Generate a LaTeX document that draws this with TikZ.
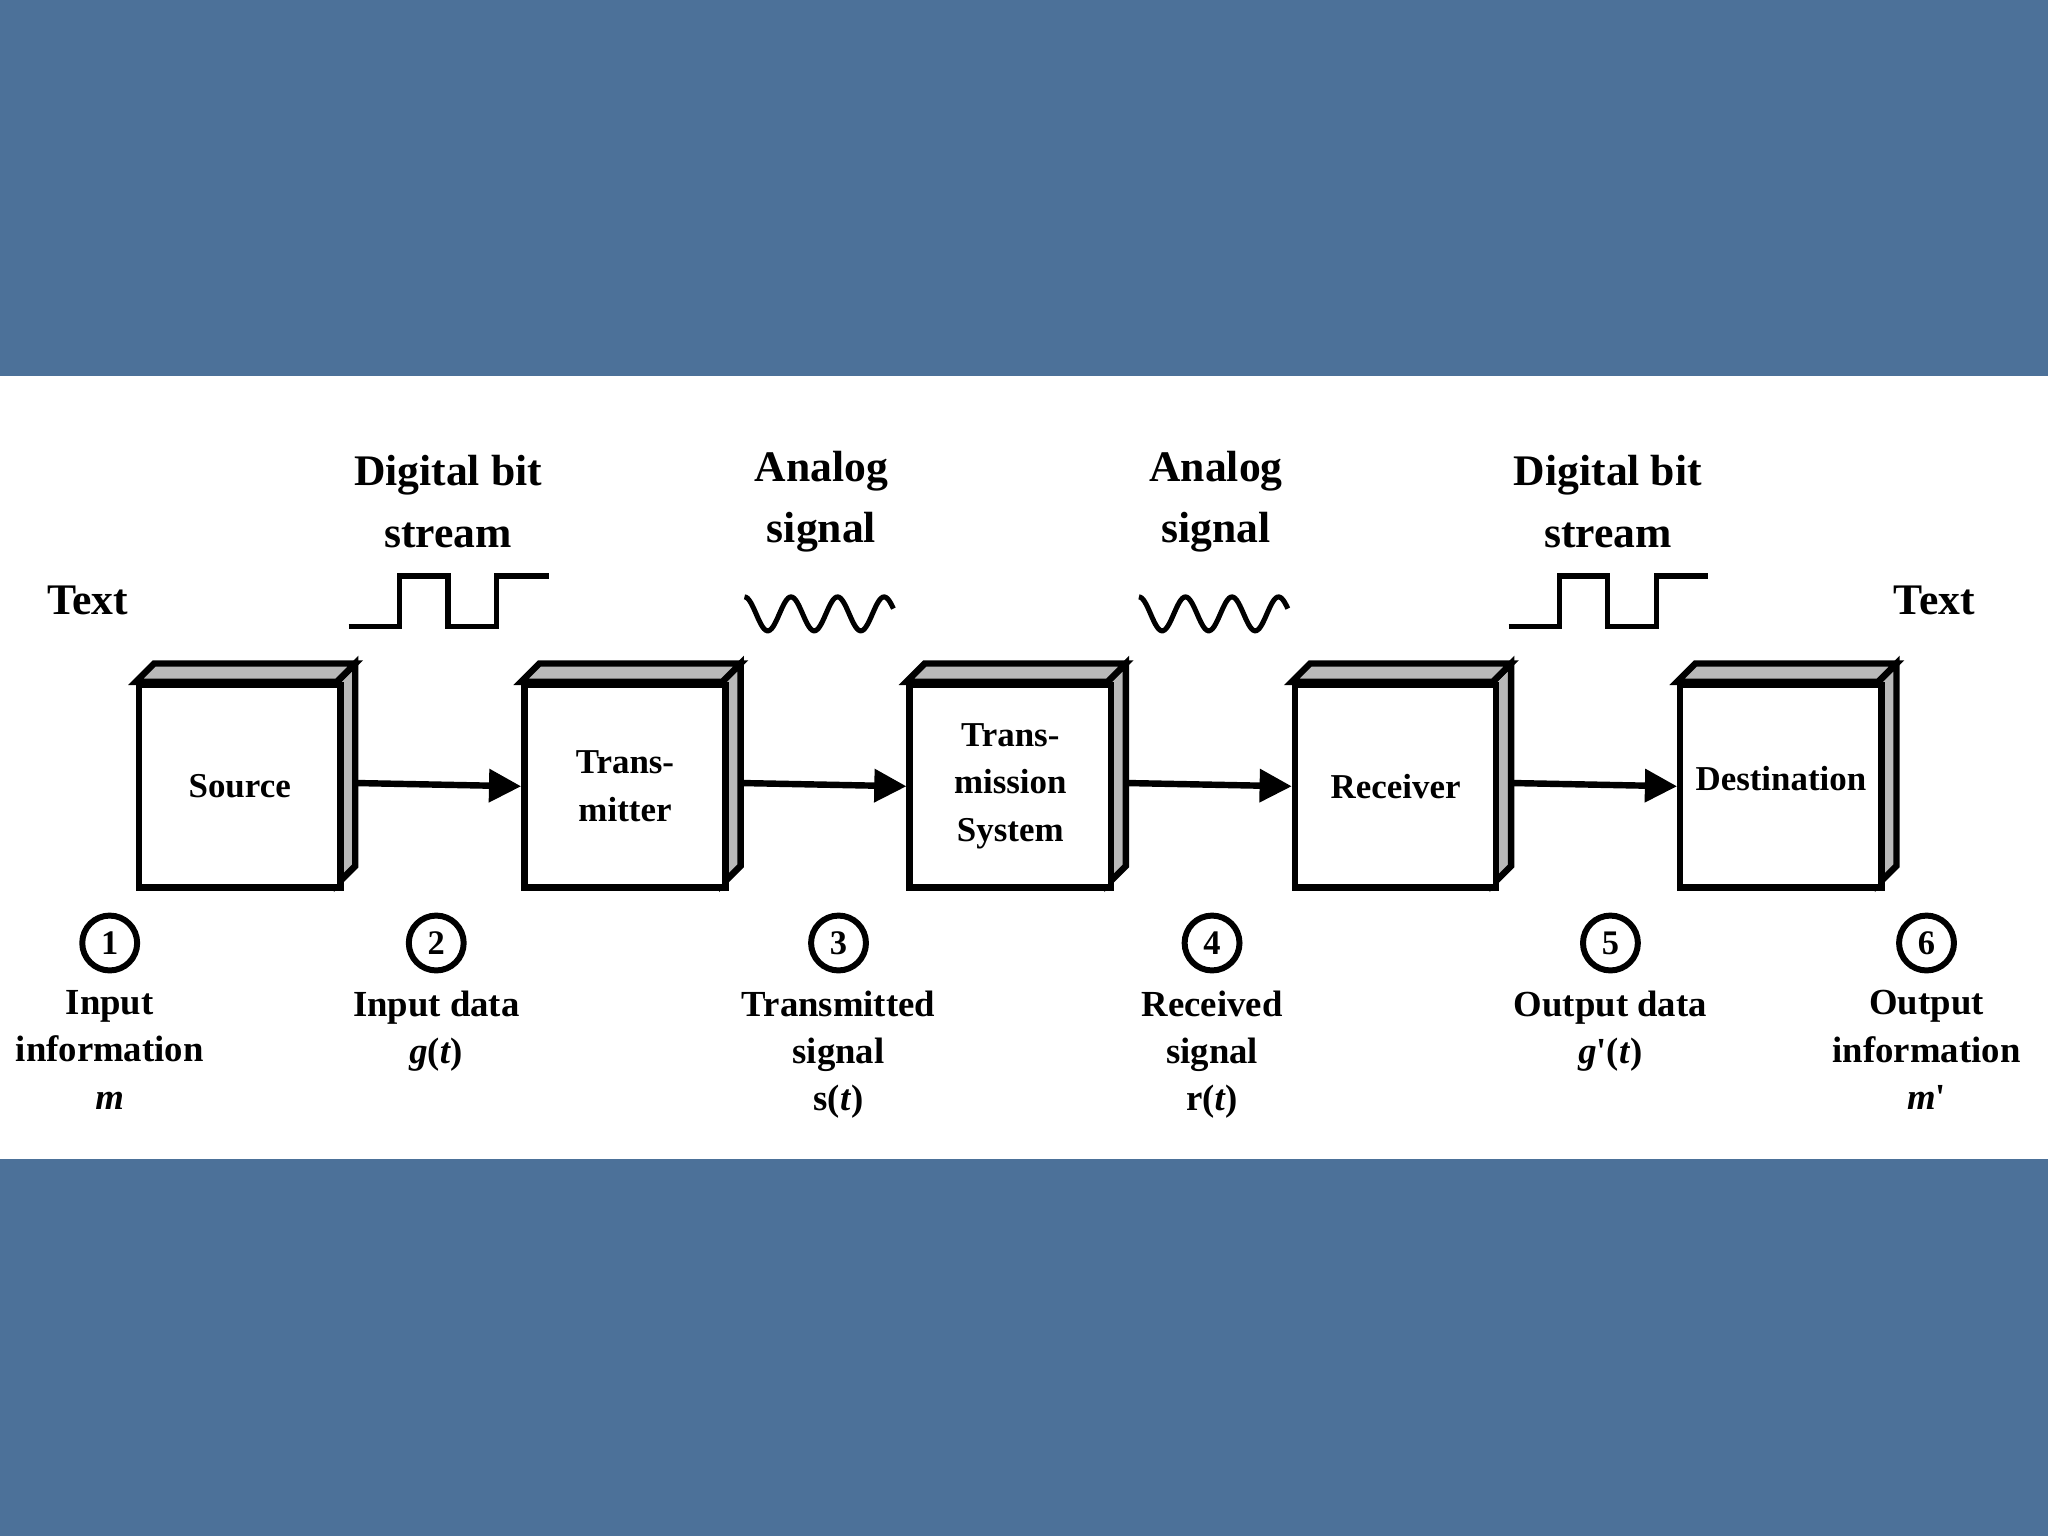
\documentclass[tikz,border=0pt]{standalone}
\usepackage{fontspec}
\usepackage{textcomp}
\setmainfont{Liberation Serif}
\usetikzlibrary{arrows.meta}
\begin{document}
\begin{tikzpicture}[x=0.01cm,y=-0.01cm,
  hdr/.style={font=\bfseries\fontsize{9.5}{13.4}\selectfont,align=center},
  lbl/.style={font=\bfseries\fontsize{8}{10.3}\selectfont,align=center},
  boxtxt/.style={font=\bfseries\fontsize{7.6}{10.3}\selectfont,align=center},
  face/.style={draw,line width=1.4pt,fill=white},
  side/.style={draw,line width=1.4pt,fill=gray!55},
  num/.style={circle,draw,line width=1.3pt,minimum size=0.42cm,inner sep=0pt,font=\bfseries\fontsize{7.5}{9}\selectfont},
  conn/.style={line width=1.4pt,-{Triangle[length=7pt,width=7pt]}},
  wave/.style={line width=1.1pt}]
\useasboundingbox (0,0) rectangle (1568,1176);
\fill[color={rgb,255:red,76;green,113;blue,153}] (0,0) rectangle (1568,1176);
\fill[white] (0,288) rectangle (1568,887);
% boxes
\foreach \i/\x in {src/104, tx/399, ts/694, rx/989, dst/1284}{
  \filldraw[side] (\x+154,522) -- (\x+168,508) -- (\x+168,663) -- (\x+154,677) -- cycle;
  \filldraw[side] (\x,522) -- (\x+14,508) -- (\x+168,508) -- (\x+154,522) -- cycle;
  \node[face,minimum width=1.54cm,minimum height=1.55cm,inner sep=0pt,anchor=north west] (\i) at (\x,522) {};
  \coordinate (\i-e) at (\x+168,599.5);
}
\node[boxtxt] at (src) {Source};
\node[boxtxt] at (tx) {Trans-\\mitter};
\node[boxtxt] at (ts) {Trans-\\mission\\System};
\node[boxtxt] at (rx) {Receiver};
\node[boxtxt,yshift=0.06cm] at (dst) {Destination};
\draw[conn] (src-e) -- (tx.west);
\draw[conn] (tx-e) -- (ts.west);
\draw[conn] (ts-e) -- (rx.west);
\draw[conn] (rx-e) -- (dst.west);
% headers
\node[hdr] (t1) at (67,460) {Text};
\node[hdr] (t2) at (1481,460) {Text};
\node[hdr] (h1) at (343,384) {Digital bit\\stream};
\node[hdr] (h2) at (629,384) {Analog\\signal};
\node[hdr] (h3) at (931,384) {Analog\\signal};
\node[hdr] (h4) at (1231,384) {Digital bit\\stream};
% square waves
\foreach \o in {0,888}{
  \draw[wave] (267+\o,480) -- (306+\o,480) -- (306+\o,441) -- (343+\o,441) -- (343+\o,480) -- (380+\o,480) -- (380+\o,441) -- (420+\o,441);
}
% sine waves
\foreach \o in {570,872}{
  \draw[wave,domain=0:114,samples=100,smooth] plot ({\o+\x},{470-13*sin(\x/114*3.2*360+90)});
}
% numbered labels
\foreach \n/\x/\t in {1/84/{Input\\information\\\textit{m}}, 2/334/{Input data\\\textit{g}(\textit{t})}, 3/642/{Transmitted\\signal\\s(\textit{t})}, 4/928/{Received\\signal\\r(\textit{t})}, 5/1233/{Output data\\\textit{g}\textquotesingle(\textit{t})}, 6/1475/{Output\\information\\\textit{m}\textquotesingle}}{
  \node[num] (c\n) at (\x,722) {\n};
  \node[lbl,anchor=north] (l\n) at (\x,746) {\t};
}
\end{tikzpicture}
\end{document}
